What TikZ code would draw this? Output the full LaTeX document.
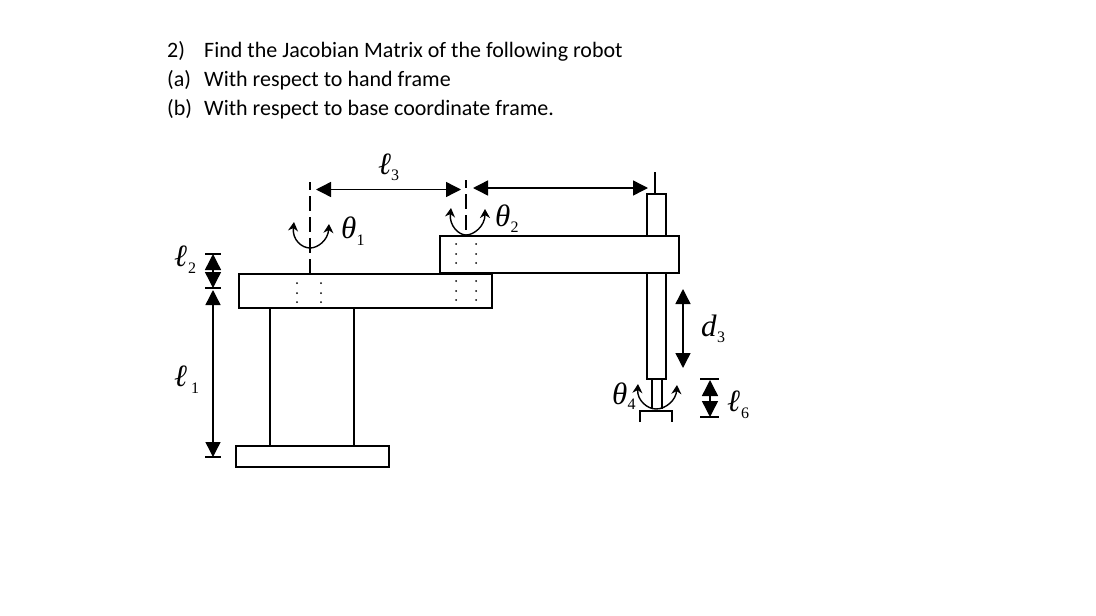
\documentclass[tikz,border=0pt]{standalone}
\usepackage{fontspec}
\setmainfont{Liberation Serif}
\newfontfamily\headfont{Carlito}
\usetikzlibrary{arrows.meta}
\tikzset{
  part/.style={draw=black,line width=1.3pt,fill=white,inner sep=0pt,minimum width=0pt},
  axisline/.style={line width=1.3pt,dash pattern=on 15pt off 6pt,dash phase=7pt},
  dim/.style={line width=1.4pt,{Triangle[length=15pt,width=15pt]}-{Triangle[length=15pt,width=15pt]}},
  headup/.style={line width=1.4pt,-{Triangle[length=16pt,width=16pt]}},
  tick/.style={line width=1.3pt},
  spin/.style={line width=1.4pt,{Stealth[length=9pt,width=10pt]}-{Stealth[length=9pt,width=10pt]}},
  dotrow/.style={fill=black,circle,inner sep=0pt,minimum size=2pt},
  head/.style={anchor=base west,inner sep=0pt,font=\headfont\fontsize{22}{22}\selectfont},
  lab/.style={anchor=base west,inner sep=0pt,font=\fontsize{31}{31}\selectfont\itshape},
  sub/.style={anchor=base west,inner sep=0pt,font=\fontsize{16}{16}\selectfont}
}
\begin{document}
\begin{tikzpicture}[x=1pt,y=-1pt]
\useasboundingbox[fill=white] (0,0) rectangle (1096,616);
% text
\node[head] (q1n) at (167,57) {2)};
\node[head] (q1) at (204,57) {Find the Jacobian Matrix of the following robot};
\node[head] (q2n) at (167,86) {(a)};
\node[head] (q2) at (204,86) {With respect to hand frame};
\node[head] (q3n) at (167,115) {(b)};
\node[head] (q3) at (204,115) {With respect to base coordinate frame.};
% rod and wrist
\draw[part] (647,194) rectangle (666,379);
\draw[part] (652,379) -- (652,409) (662,379) -- (662,409);
\draw[line width=1.2pt] (655,172) -- (655,194);
% bodies
\draw[part] (236,446) rectangle (389,467);
\draw[part] (270,308) rectangle (354,446);
\draw[part] (239,274) rectangle (492,308);
\draw[part] (440,236) rectangle (679,273);
% gripper
\draw[line width=1.3pt] (640,422) -- (640,411) -- (672,411) -- (672,422);
% axes
\draw[axisline] (310,182) -- (310,274);
\draw[axisline] (466,180) -- (466,236);
% hidden dots
\foreach \x in {297,321}{\foreach \y in {283,293,302}{\node[dotrow] at (\x,\y) {};}}
\foreach \x in {456,476}{\foreach \y in {244,254,263,281,291,300}{\node[dotrow] at (\x,\y) {};}}
% rotation arrows
\draw[spin] (294,222) .. controls (292,240) and (302,248) .. (310,248) .. controls (318,248) and (328,240) .. (329,224);
\draw[spin] (451,208) .. controls (449,226) and (459,235) .. (466,235) .. controls (474,235) and (485,226) .. (485,209);
\draw[spin] (638,384) .. controls (637,400) and (647,409) .. (656,409) .. controls (666,409) and (676,400) .. (677,385);
% dimensions
\coordinate (l3a) at (316,189.5); \coordinate (l3b) at (461,189.5);
\draw[dim] (l3a) -- (l3b);
\coordinate (l4a) at (473,188); \coordinate (l4b) at (648,188);
\draw[dim] (l4a) -- (l4b);
\coordinate (d3a) at (683,289); \coordinate (d3b) at (683,368);
\draw[dim] (d3a) -- (d3b);
% l2
\coordinate (l2a) at (213,254); \coordinate (l2m) at (213,271); \coordinate (l2b) at (213,288);
\draw[headup] (l2m) -- (l2a);
\draw[headup] (l2m) -- (l2b);
\draw[tick] (205,254) -- (221,254) (205,288) -- (221,288);
% l1
\coordinate (l1a) at (213,290); \coordinate (l1b) at (213,457);
\draw[dim] (l1a) -- (l1b);
\draw[tick] (205,457) -- (221,457);
% l6
\coordinate (l6a) at (710,380); \coordinate (l6m) at (710,398); \coordinate (l6b) at (710,417);
\draw[headup] (l6m) -- (l6a);
\draw[headup] (l6m) -- (l6b);
\draw[tick] (700,379) -- (719,379) (700,417) -- (719,417);
% labels
\node[lab] (tl3) at (378,174) {ℓ};
\node[sub] (tl3s) at (391,180) {3};
\node[lab] (tl2) at (174,266) {ℓ};
\node[sub] (tl2s) at (188,273) {2};
\node[lab] (tl1) at (174,386) {ℓ};
\node[sub] (tl1s) at (191,393) {1};
\node[lab] (tl6) at (727,411) {ℓ};
\node[sub] (tl6s) at (741,418) {6};
\node[lab] (t1) at (341,238) {θ};
\node[sub] (t1s) at (356.5,245) {1};
\node[lab] (t2) at (495,226) {θ};
\node[sub] (t2s) at (510.5,232) {2};
\node[lab] (t4) at (612,404) {θ};
\node[sub] (t4s) at (627.5,409) {4};
\node[lab] (d3) at (701,336) {d};
\node[sub] (d3s) at (717,342) {3};
\end{tikzpicture}
\end{document}
